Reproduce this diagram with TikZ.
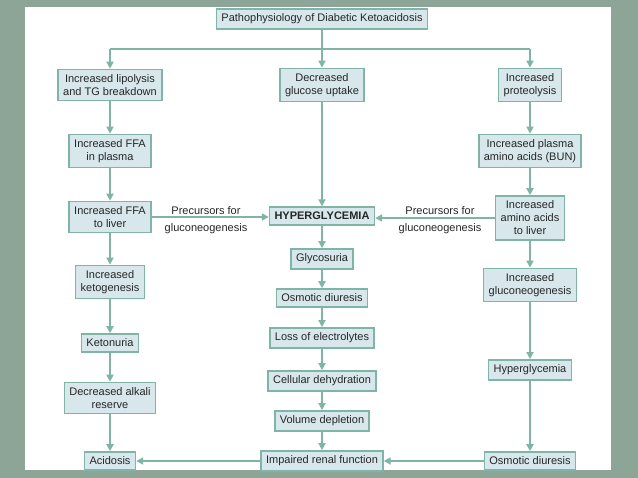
\documentclass[tikz,border=0pt]{standalone}
\usepackage{fontspec}
\setmainfont{Liberation Sans}
\usetikzlibrary{arrows.meta}
\definecolor{bg}{HTML}{8CA597}
\definecolor{bfill}{HTML}{D7E7EC}
\definecolor{bline}{HTML}{80B4A6}
\begin{document}
\begin{tikzpicture}[x=1pt,y=-1pt,
  box/.style={draw=bline,fill=bfill,line width=1.5pt,align=center,inner xsep=5pt,inner ysep=5pt,font=\fontsize{11}{13}\selectfont,text=black!85},
  lbl/.style={font=\fontsize{11}{13}\selectfont,text=black!85},
  arr/.style={draw=bline,line width=2.5pt,-{Triangle[length=7pt,width=7pt]}},
  ln/.style={draw=bline,line width=2.5pt}]
\fill[bg] (0,0) rectangle (638,478);
\fill[white] (25,7) rectangle (611,470);
\node[box] (t) at (322,19) {Pathophysiology of Diabetic Ketoacidosis};
\node[box] (l1) at (110,85) {Increased lipolysis\\and TG breakdown};
\node[box] (m1) at (322,85) {Decreased\\glucose uptake};
\node[box] (r1) at (530,85) {Increased\\proteolysis};
\node[box] (l2) at (110,151) {Increased FFA\\in plasma};
\node[box] (r2) at (530,151) {Increased plasma\\amino acids (BUN)};
\node[box] (l3) at (110,217) {Increased FFA\\to liver};
\node[box,font=\fontsize{11}{13}\selectfont\bfseries] (h) at (322,216) {HYPERGLYCEMIA};
\node[box] (r3) at (530,218) {Increased\\amino acids\\to liver};
\node[lbl] (pl1) at (206,211) {Precursors for};
\node[lbl] (pl2) at (206,229) {gluconeogenesis};
\node[lbl] (pr1) at (440,211) {Precursors for};
\node[lbl] (pr2) at (440,229) {gluconeogenesis};
\node[box] (l4) at (110,282) {Increased\\ketogenesis};
\node[box] (m2) at (322,259) {Glycosuria};
\node[box] (m3) at (322,298) {Osmotic diuresis};
\node[box] (m4) at (322,338) {Loss of electrolytes};
\node[box] (m5) at (322,381) {Cellular dehydration};
\node[box] (m6) at (322,421) {Volume depletion};
\node[box] (m7) at (322,461) {Impaired renal function};
\node[box] (r4) at (530,285) {Increased\\gluconeogenesis};
\node[box] (l5) at (110,343) {Ketonuria};
\node[box] (r5) at (530,370) {Hyperglycemia};
\node[box] (l6) at (110,398) {Decreased alkali\\reserve};
\node[box] (l7) at (110,461) {Acidosis};
\node[box] (r6) at (530,461) {Osmotic diuresis};
\coordinate (j) at (322,49);
\coordinate (jl) at (110,49);
\coordinate (jr) at (530,49);
\draw[ln] (t) -- (j);
\draw[ln] (jl) -- (jr);
\draw[arr] (jl) -- (l1);
\draw[arr] (j) -- (m1);
\draw[arr] (jr) -- (r1);
\draw[arr] (l1) -- (l2);
\draw[arr] (l2) -- (l3);
\draw[arr] (l3) -- (l4);
\draw[arr] (l4) -- (l5);
\draw[arr] (l5) -- (l6);
\draw[arr] (l6) -- (l7);
\draw[arr] (r1) -- (r2);
\draw[arr] (r2) -- (r3);
\draw[arr] (r3) -- (r4);
\draw[arr] (r4) -- (r5);
\draw[arr] (r5) -- (r6);
\draw[arr] (m1) -- (h);
\draw[arr] (h) -- (m2);
\draw[arr] (m2) -- (m3);
\draw[arr] (m3) -- (m4);
\draw[arr] (m4) -- (m5);
\draw[arr] (m5) -- (m6);
\draw[arr] (m6) -- (m7);
\draw[arr] (l3.east) -- (h.west |- l3.east);
\draw[arr] (r3.west) -- (h.east |- r3.west);
\draw[arr] (m7) -- (l7);
\draw[arr] (r6) -- (m7);
\end{tikzpicture}
\end{document}
